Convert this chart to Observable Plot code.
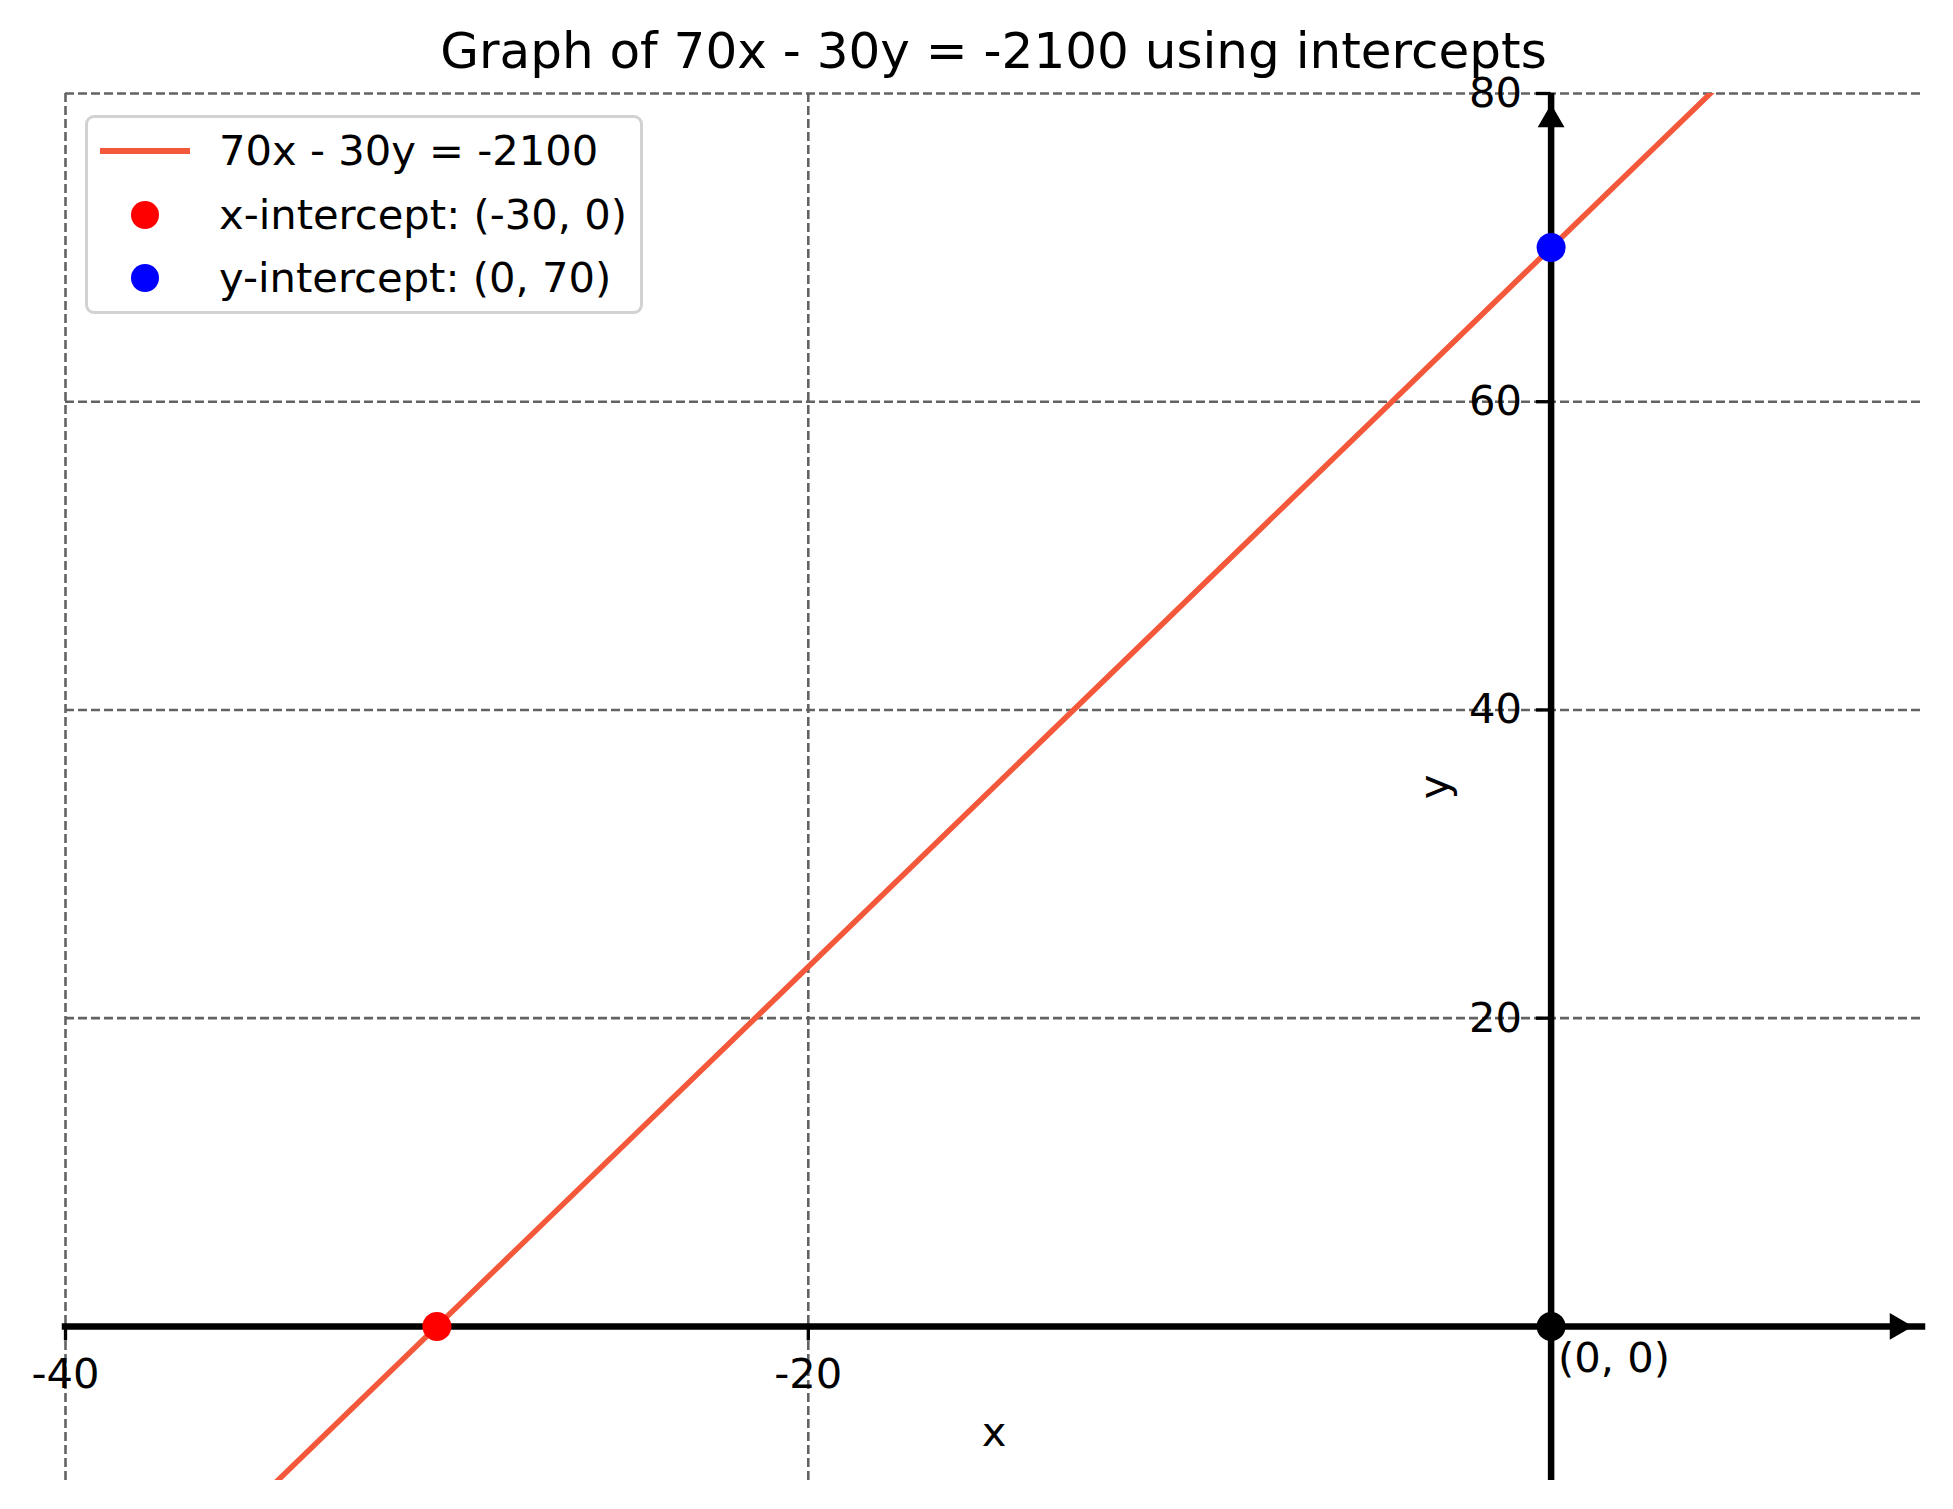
<!DOCTYPE html>
<html><head><meta charset="utf-8">
<script src="https://cdn.jsdelivr.net/npm/d3@7"></script>
<script src="https://cdn.jsdelivr.net/npm/@observablehq/plot@0.6"></script>
<style>
html,body{margin:0;padding:0;background:#fff;}
#wrap{position:relative;width:1953px;height:1509px;font-family:"DejaVu Sans",sans-serif;color:#000;}
#title{position:absolute;left:65px;width:1857px;top:26px;text-align:center;font-size:50px;line-height:50px;white-space:nowrap;}
#legend{position:absolute;left:85px;top:115px;width:558px;height:199px;box-sizing:border-box;border:3px solid #d2d2d2;border-radius:9px;background:rgba(255,255,255,0.85);}
.row{position:absolute;left:0;height:50px;width:100%;}
.lab{position:absolute;left:131px;top:0;line-height:50px;font-size:41.67px;white-space:nowrap;}
.sw-line{position:absolute;left:12px;top:22px;width:90px;height:6px;}
.sw-dot{position:absolute;left:43px;top:11px;width:28px;height:28px;border-radius:50%;}
</style></head>
<body><div id="wrap"><div id="chart"></div><div id="title"></div><div id="legend"></div></div>
<script>
// ---- data ----
const titleText = "Graph of 70x - 30y = -2100 using intercepts";
const xDomain = [-40, 10];
const yDomain = [-10, 80];
const xTicks = [-40, -20];
const xTickLabels = ["-40", "-20"];
const yTicks = [20, 40, 60, 80];
const yTickLabels = ["20", "40", "60", "80"];
const gridX = [-40, -20, 0];
const gridY = [0, 20, 40, 60, 80];
const lineX = [-40, 10];
const lineY = [-23.33, 93.33];
const lineLabel = "70x - 30y = -2100";
const lineColor = "#f4583a";
const pointX = [-30, 0, 0];
const pointY = [0, 70, 0];
const pointColors = ["#ff0000", "#0000ff", "#000000"];
const pointLabels = ["x-intercept: (-30, 0)", "y-intercept: (0, 70)", null];
const originLabel = "(0, 0)";
const xLabel = "x";
const yLabel = "y";

// ---- derived tables ----
const linePts = lineX.map((x, i) => ({x, y: lineY[i]}));
const points = pointX.map((x, i) => ({x, y: pointY[i], c: pointColors[i]}));
const xMid = (xDomain[0] + xDomain[1]) / 2;
const yMid = (yDomain[0] + yDomain[1]) / 2;
const FS = 41.67;
const grid = {stroke: "#636363", strokeWidth: 2.6, strokeDasharray: "9,4"};

const chart = Plot.plot({
  width: 1953,
  height: 1509,
  marginLeft: 65,
  marginRight: 31,
  marginTop: 93,
  marginBottom: 29,
  x: {domain: xDomain, axis: null},
  y: {domain: yDomain, axis: null},
  style: {fontFamily: "DejaVu Sans, sans-serif", fontSize: FS + "px", background: "#fff", color: "#000", overflow: "visible"},
  marks: [
    Plot.ruleY(gridY, {y: d => d, ...grid}),
    Plot.ruleX(gridX, {x: d => d, ...grid}),
    Plot.line(linePts, {x: "x", y: "y", stroke: lineColor, strokeWidth: 5.5, clip: true}),
    Plot.ruleY([0], {y: d => d, stroke: "#000", strokeWidth: 6.5, strokeLinecap: "square"}),
    Plot.ruleX([0], {x: d => d, stroke: "#000", strokeWidth: 6.5}),
    Plot.ruleX(xTicks, {x: d => d, y1: 0, y2: 0, insetBottom: -14.6, stroke: "#000", strokeWidth: 3.3}),
    Plot.ruleY(yTicks, {y: d => d, x1: 0, x2: 0, insetLeft: -14.6, stroke: "#000", strokeWidth: 3.3}),
    Plot.text(xTicks, {x: d => d, y: 0, text: (d, i) => xTickLabels[i], dy: 48, fontSize: FS, fill: "#000"}),
    Plot.text(yTicks, {x: 0, y: d => d, text: (d, i) => yTickLabels[i], textAnchor: "end", dx: -29, fontSize: FS, fill: "#000"}),
    Plot.dot([xDomain[1]], {x: d => d, y: 0, symbol: "triangle", r: 9, fill: "#000", stroke: "#000", rotate: 90, dx: -25}),
    Plot.dot([yDomain[1]], {x: 0, y: d => d, symbol: "triangle", r: 9, fill: "#000", stroke: "#000", dy: 26}),
    Plot.dot(points, {x: "x", y: "y", fill: "c", r: 14.5}),
    Plot.text([originLabel], {x: 0, y: 0, text: d => d, textAnchor: "start", dx: 7, dy: 32, fontSize: FS, fill: "#000"}),
    Plot.text([xLabel], {x: xMid, y: 0, text: d => d, dy: 106, fontSize: FS, fill: "#000"}),
    Plot.text([yLabel], {x: 0, y: yMid, text: d => d, dx: -116, rotate: -90, fontSize: FS, fill: "#000"})
  ]
});
document.getElementById("chart").appendChild(chart);
document.getElementById("title").textContent = titleText;

// legend
const legend = d3.select("#legend");
const entries = [{type: "line", color: lineColor, label: lineLabel}]
  .concat(pointLabels.map((l, i) => ({type: "dot", color: pointColors[i], label: l})).filter(e => e.label));
entries.forEach((e, i) => {
  const row = legend.append("div").attr("class", "row").style("top", (8 + i * 63.5) + "px");
  if (e.type === "line") row.append("div").attr("class", "sw-line").style("background", e.color);
  else row.append("div").attr("class", "sw-dot").style("background", e.color);
  row.append("div").attr("class", "lab").text(e.label);
});
</script>
</body></html>
